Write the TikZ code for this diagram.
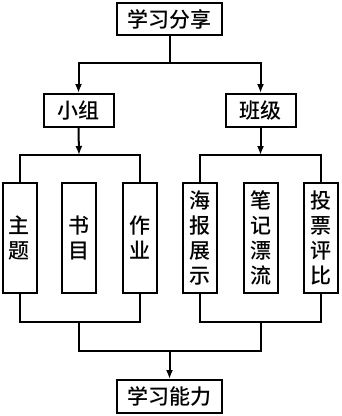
\documentclass[tikz,border=0pt]{standalone}
\usepackage{fontspec}
\newfontfamily\cjk{Noto Sans CJK SC}[BoldFont={Noto Sans CJK SC Medium}]
\usetikzlibrary{arrows.meta}

\begin{document}
\begin{tikzpicture}[x=1pt, y=-1pt, line width=2pt,
  box/.style={draw, inner sep=0pt, font=\cjk\bfseries\fontsize{21}{25}\selectfont},
  wide/.style={box, minimum width=105pt, minimum height=32pt},
  mid/.style={box, minimum width=70pt, minimum height=33pt},
  tall/.style={box, align=center, minimum width=34pt, minimum height=110pt},
  arr/.style={-{Latex[length=9pt,width=7pt]}}]

\useasboundingbox (0,0) rectangle (341,416);

% Oben
\node[wide] (fx) at (169.5,19) {学习分享};
\coordinate (fen) at (169.5,63);

% Zweite Ebene
\node[mid] (xz) at (78.5,110.5) {小组};
\node[mid] (bj) at (260.5,110.5) {班级};

\draw[arr] (fx.south) -- (fen) -| (xz.north);
\draw[arr] (fen) -| (bj.north);

% Dritte Ebene, links
\node[tall] (zt) at (19.5,238) {主\\题};
\node[tall] (sm) at (79,238) {书\\目};
\node[tall] (zy) at (139.5,238) {作\\业};

% Dritte Ebene, rechts
\node[tall] (hb) at (199.5,238) {海\\报\\展\\示};
\node[tall] (bj2) at (261,238) {笔\\记\\漂\\流};
\node[tall] (tp) at (321,238) {投\\票\\评\\比};

% Klammern oben
\coordinate (lo) at (79,155);
\coordinate (ro) at (260.5,155);
\draw[arr] (xz.south) -- (lo);
\draw[arr] (bj.south) -- (ro);
\draw (zt.north) -- (zt.north |- lo) -- (zy.north |- lo) -- (zy.north);
\draw (hb.north) -- (hb.north |- ro) -- (tp.north |- ro) -- (tp.north);

% Klammern unten
\coordinate (lu) at (79,322);
\coordinate (ru) at (260.5,322);
\draw (zt.south) -- (zt.south |- lu) -- (zy.south |- lu) -- (zy.south);
\draw (hb.south) -- (hb.south |- ru) -- (tp.south |- ru) -- (tp.south);

% Unten
\node[wide, minimum height=33pt] (nl) at (169.5,396.5) {学习能力};
\coordinate (sam) at (169.5,351);
\draw (lu) |- (sam) -| (ru);
\draw[arr] (sam) -- (nl.north);

\end{tikzpicture}
\end{document}
